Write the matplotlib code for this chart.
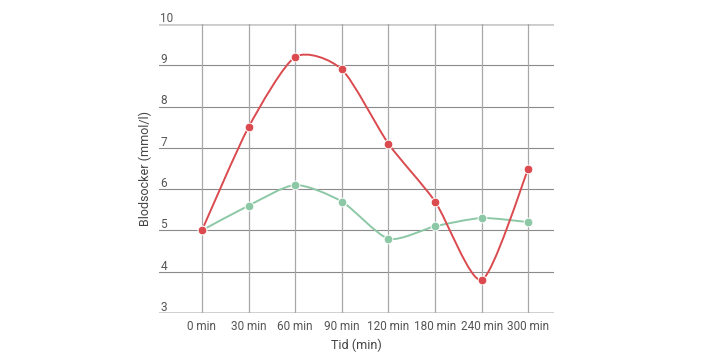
import numpy as np
import matplotlib
matplotlib.use("Agg")
from matplotlib import pyplot as plt
from matplotlib.path import Path
from matplotlib.patches import PathPatch
from matplotlib.transforms import blended_transform_factory, offset_copy

plt.rcParams['font.family'] = ['Roboto', 'DejaVu Sans']

times = ["0 min", "30 min", "60 min", "90 min", "120 min", "180 min", "240 min", "300 min"]
glucose_red = [5.0, 7.5, 9.2, 8.9, 7.1, 5.7, 3.8, 6.5]
glucose_green = [5.0, 5.6, 6.1, 5.7, 4.8, 5.1, 5.3, 5.2]
y_ticks = [3, 4, 5, 6, 7, 8, 9, 10]

RED = "#db4a4f"
GREEN = "#8dc8a6"


def smooth_path(xs, ys, t=0.12):
    """Bezier path through the points, Catmull-Rom style tangents."""
    pts = np.column_stack([xs, ys]).astype(float)
    n = len(pts)
    verts = [pts[0]]
    codes = [Path.MOVETO]
    for i in range(n - 1):
        p0 = pts[max(i - 1, 0)]
        p1 = pts[i]
        p2 = pts[i + 1]
        p3 = pts[min(i + 2, n - 1)]
        c1 = p1 + (p2 - p0) * t
        c2 = p2 - (p3 - p1) * t
        verts += [c1, c2, p2]
        codes += [Path.CURVE4] * 3
    return Path(verts, codes)


fig = plt.figure(figsize=(7.05, 3.6), dpi=100)
ax = fig.add_axes([159 / 705, 1 - 313 / 360, (554 - 159) / 705, (313 - 24) / 360])

x = np.arange(len(times))
ax.set_xlim(-0.92, 7.55)
ax.set_ylim(3, 10)

# grid
for yv in y_ticks:
    if yv in (3, 10):
        ax.axhline(yv, color="#cccccc", lw=2, zorder=1)
    else:
        ax.axhline(yv, color="#8a8a8a", lw=0.8, zorder=1)
for xv in x:
    ax.axvline(xv, color="#a8a8a8", lw=0.9, zorder=1)

for vals, col in [(glucose_green, GREEN), (glucose_red, RED)]:
    ax.add_patch(PathPatch(smooth_path(x, vals), facecolor="none", edgecolor=col,
                           lw=1.4, zorder=3, clip_on=False))
    ax.plot(x, vals, "o", color=col, ms=6.3, mec="white", mew=0.7, zorder=4, clip_on=False)

for s in ax.spines.values():
    s.set_visible(False)
ax.set_xticks([])
ax.set_yticks([])

# y tick labels sit just above their gridlines
trans = offset_copy(blended_transform_factory(ax.transAxes, ax.transData), fig=fig, x=1, y=1.5, units="points")
for yv in y_ticks:
    ax.text(0, yv, str(yv), transform=trans, ha="left", va="baseline", fontsize=8.5, color="#555555")

xtrans = offset_copy(blended_transform_factory(ax.transData, ax.transAxes), fig=fig, y=-5, units="points")
for xv, lab in zip(x, times):
    ax.text(xv, 0, lab, transform=xtrans, ha="center", va="top", fontsize=8.5, color="#555555")

fig.text((159 + 554) / 2 / 705, 1 - 345 / 360, "Tid (min)", ha="center", va="center", fontsize=9, color="#444444")
fig.text(145 / 705, 1 - 168 / 360, "Blodsocker (mmol/l)", ha="center", va="center", rotation=90,
         fontsize=9, color="#444444")

fig.savefig("out.png", dpi=100)
